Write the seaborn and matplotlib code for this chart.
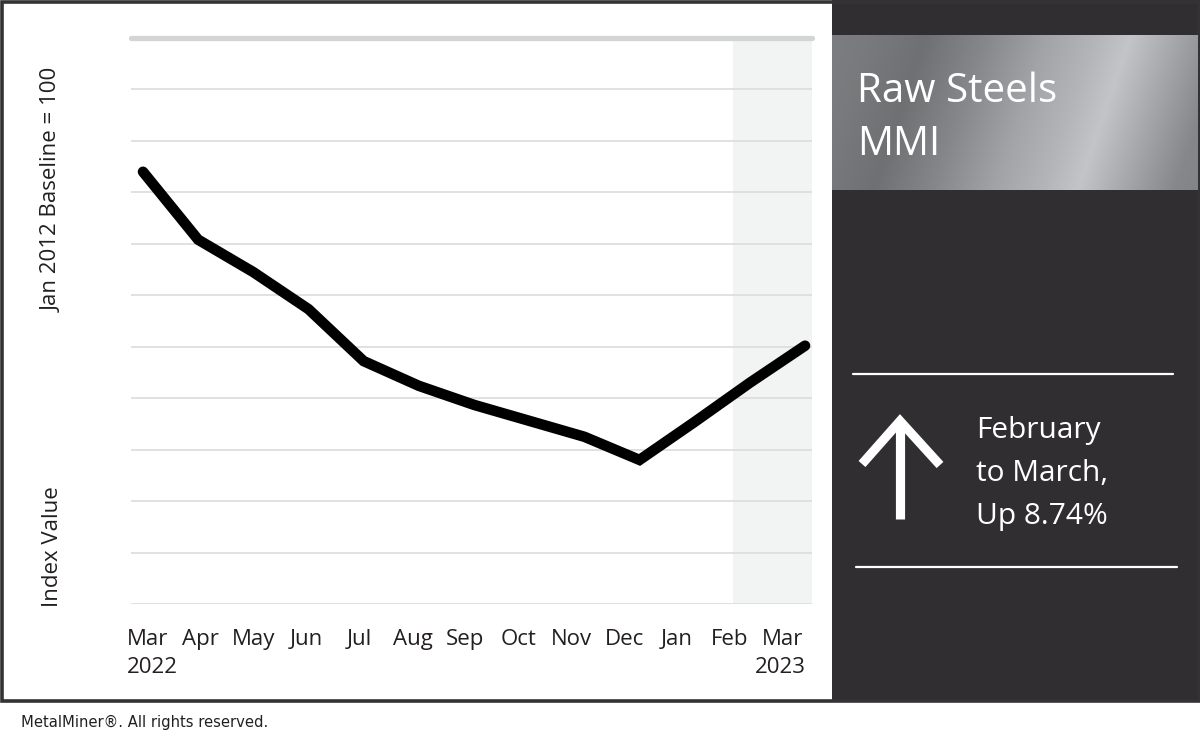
import numpy as np
import pandas as pd
import matplotlib
matplotlib.use("Agg")
import matplotlib.pyplot as plt
from matplotlib.patches import Rectangle
from matplotlib.lines import Line2D
import seaborn as sns

# ---- data ----
months = ["Mar", "Apr", "May", "Jun", "Jul", "Aug", "Sep", "Oct", "Nov", "Dec", "Jan", "Feb", "Mar"]
years = ["2022", "2023"]
index_values = [124.0, 110.8, 104.5, 97.3, 87.2, 82.4, 78.7, 75.6, 72.5, 68.0, 75.4, 83.0, 90.2]
grid_levels = [40, 50, 60, 70, 80, 90, 100, 110, 120, 130, 140]
top_level = 150
title_lines = ["Raw Steels", "MMI"]
change_lines = ["February", "to March,", "Up 8.74%"]
y_label_top = "Jan 2012 Baseline = 100"
y_label_bottom = "Index Value"
footer = "MetalMiner\u00ae. All rights reserved."

sns.set_theme(style="white")
plt.rcParams["font.family"] = ["Open Sans", "DejaVu Sans"]

W, H = 1200, 734
fig = plt.figure(figsize=(W / 100, H / 100), dpi=100)
fig.patch.set_facecolor("white")

# background / decoration axes in pixel coordinates
bg = fig.add_axes([0, 0, 1, 1], zorder=0)
bg.set_xlim(0, W)
bg.set_ylim(H, 0)
bg.axis("off")

dark = "#302e31"
bg.add_patch(Rectangle((832, 0), W - 832, 701, facecolor=dark, edgecolor="none"))
bg.add_patch(Rectangle((1.5, 1.5), W - 3, 699, facecolor="none", edgecolor="#333333", lw=2.6))

# metallic gradient box
x0, x1, y0, y1 = 832, 1198, 35, 190
xs = np.arange(x0, x1)
ys = np.arange(y0, y1)
XX, YY = np.meshgrid(xs, ys)
D = XX + 0.34 * (YY - 112)
cp_d = [780, 840, 900, 960, 1020, 1070, 1104, 1140, 1200, 1260]
cp_v = [0.50, 0.48, 0.44, 0.53, 0.64, 0.71, 0.77, 0.68, 0.53, 0.50]
G = np.interp(D, cp_d, cp_v)
img = np.dstack([G * 0.99, G * 1.0, G * 1.02]).clip(0, 1)
bg.imshow(img, extent=(x0, x1, y1, y0), aspect="auto", interpolation="bilinear", zorder=1)
bg.set_xlim(0, W)
bg.set_ylim(H, 0)

for i, t in enumerate(title_lines):
    bg.text(857, 102 + 53 * i, t, color="white", fontsize=29, ha="left", va="baseline", zorder=3)

# white separators
bg.add_line(Line2D([853, 1173], [374, 374], color="white", lw=1.6, zorder=3))
bg.add_line(Line2D([856, 1177], [567, 567], color="white", lw=1.6, zorder=3))

# arrow
bg.add_line(Line2D([900, 900], [424, 519], color="white", lw=6.6, solid_capstyle="butt", zorder=3))
bg.add_line(Line2D([862, 900, 940], [464, 421, 465], color="white", lw=6.6,
                   solid_capstyle="butt", solid_joinstyle="miter", zorder=3))

for i, t in enumerate(change_lines):
    bg.text(976, 438 + 43 * i, t, color="white", fontsize=21.5, ha="left", va="baseline", zorder=3)

# y labels
bg.text(52, 68, y_label_top, rotation=90, fontsize=16, color="#231f20", ha="center", va="top")
bg.text(52, 607, y_label_bottom, rotation=90, fontsize=16, color="#231f20", ha="center", va="bottom")

# footer
bg.text(21, 722, footer, fontsize=10.6, family="DejaVu Sans", color="#231f20", ha="left", va="center")

# ---- main chart ----
px_left, px_right, px_top, px_bottom = 131, 812, 38, 604
ax = fig.add_axes([px_left / W, 1 - px_bottom / H, (px_right - px_left) / W, (px_bottom - px_top) / H], zorder=2)
ax.set_facecolor("none")

unit = 55.17
xmin = (px_left - 143) / unit
xmax = (px_right - 143) / unit
ax.set_xlim(xmin, xmax)
ax.set_ylim(grid_levels[0], top_level)

df = pd.DataFrame({"pos": np.arange(len(index_values)), "value": index_values})

ax.axvspan((733 - 143) / unit, xmax, color="#f2f3f3", zorder=0, lw=0)
for g in grid_levels:
    ax.axhline(g, color="#dcdcdc", lw=1.2, zorder=1)
ax.axhline(top_level, color="#d3d4d6", lw=3.8, zorder=1, clip_on=False)

sns.lineplot(data=df, x="pos", y="value", ax=ax, color="black", lw=7.6,
             solid_capstyle="round", solid_joinstyle="miter", zorder=3)

for s in ax.spines.values():
    s.set_visible(False)
ax.set_xticks([])
ax.set_yticks([])
ax.set_xlabel("")
ax.set_ylabel("")

label_px = np.linspace(148, 783, len(months))
label_pos = (label_px - 143) / unit
trans = ax.get_xaxis_transform()
for p, m in zip(label_pos, months):
    ax.text(p, (px_bottom - 645) / (px_bottom - px_top), m, transform=trans, fontsize=16,
            color="#231f20", ha="center", va="baseline", clip_on=False)
ybase = (px_bottom - 673) / (px_bottom - px_top)
ax.text((127 - 143) / unit, ybase, years[0], transform=trans, fontsize=16, color="#231f20",
        ha="left", va="baseline", clip_on=False)
ax.text((806 - 143) / unit, ybase, years[1], transform=trans, fontsize=16, color="#231f20",
        ha="right", va="baseline", clip_on=False)

fig.savefig("out.png", dpi=100)
